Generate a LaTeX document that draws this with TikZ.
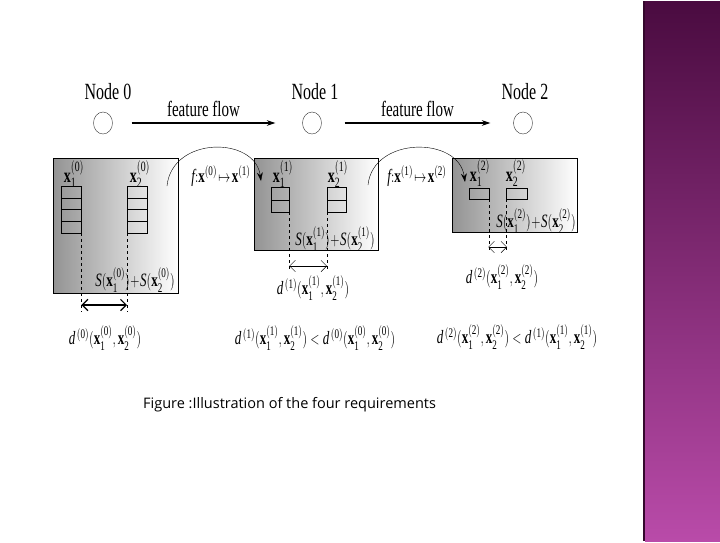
\documentclass[tikz,border=0pt]{standalone}
\usepackage{fontspec}
\usepackage{graphicx}
\setmainfont{Liberation Serif}
\newfontfamily\capfont{Open Sans}
\usetikzlibrary{positioning, shapes.geometric, arrows.meta, calc}
\definecolor{plumtop}{HTML}{4a0b40}
\definecolor{plumbot}{HTML}{b94ba9}
\definecolor{plumedge}{HTML}{34082c}
\newcommand{\tall}[1]{\scalebox{1}[1.45]{#1}}
\newcommand{\vx}[2]{\mathbf{x}_{\mathrm{#1}}^{\mathrm{(#2)}}}
\newcommand{\ssum}[1]{\mathit{S}\mathrm{(}\vx{1}{#1}\mathrm{)}\!+\!\mathit{S}\mathrm{(}\vx{2}{#1}\mathrm{)}}
\newcommand{\dist}[1]{\mathit{d}^{\,\mathrm{(#1)}}\mathrm{(}\vx{1}{#1}\mathrm{,}\,\vx{2}{#1}\mathrm{)}}
\newcommand{\fmap}[2]{\mathit{f}\mathrm{:}\mathbf{x}^{\mathrm{(#1)}}\!\mapsto\!\mathbf{x}^{\mathrm{(#2)}}}

\begin{document}
\begin{tikzpicture}[x=1pt, y=-1pt,
  nodelbl/.style={font=\fontsize{16}{18}\selectfont, inner sep=0pt},
  flowlbl/.style={font=\fontsize{15}{17}\selectfont, inner sep=0pt},
  mlbl/.style={font=\fontsize{13}{15}\selectfont, inner sep=0pt},
  vlbl/.style={font=\fontsize{14}{16}\selectfont, inner sep=0pt},
  peer/.style={draw=black!80, ellipse, minimum width=19pt, minimum height=22pt, inner sep=0pt},
  stagebox/.style={draw, line width=1.1pt, left color=black!42, right color=white,
                anchor=north west, inner sep=0pt},
  cellbox/.style={draw, thin, anchor=north west, inner sep=0pt},
  dashln/.style={dashed, thin},
  flowarrow/.style={-{Stealth[length=3mm, width=2mm]}, line width=1.2pt},
  maparrow/.style={-{Stealth[length=3mm, width=2mm]}, thin},
  gaparrow/.style={{Straight Barb[length=2mm]}-{Straight Barb[length=2mm]}}
]
  % page and side bar
  \fill[white] (0,0) rectangle (720,540);
  \shade[top color=plumtop, bottom color=plumbot] (645,0) rectangle (720,540);
  \draw[plumedge, line width=2pt] (644,0) -- (644,540);

  % Nodes of the flow
  \node[peer] (n0) at (103,122) {};
  \node[peer] (n1) at (312,122) {};
  \node[peer] (n2) at (523,122) {};
  \node[nodelbl] at (108,91) {\tall{Node 0}};
  \node[nodelbl] at (315,91) {\tall{Node 1}};
  \node[nodelbl] at (525,91) {\tall{Node 2}};

  \draw[flowarrow] ([xshift=19pt]n0.east) -- ([xshift=-27pt]n1.west)
      node[flowlbl, midway, above=6pt] {\tall{feature flow}};
  \draw[flowarrow] ([xshift=23pt]n1.east) -- ([xshift=-23pt]n2.west)
      node[flowlbl, midway, above=6pt] {\tall{feature flow}};

  % Stages
  \node[stagebox, minimum width=125pt, minimum height=135pt] (b0) at (53,157) {};
  \node[stagebox, minimum width=124pt, minimum height=92pt] (b1) at (254,157) {};
  \node[stagebox, minimum width=125pt, minimum height=74pt] (b2) at (452,157) {};

  % Stage 0
  \node[vlbl] at (74,173) {\tall{$\vx{1}{0}$}};
  \node[vlbl] at (140,173) {\tall{$\vx{2}{0}$}};
  \node[cellbox, minimum width=20pt, minimum height=47pt] (s01) at (61,185) {};
  \node[cellbox, minimum width=20pt, minimum height=47pt] (s02) at (127,185) {};
  \foreach \s in {s01, s02} {
    \foreach \k in {1,3}
      \draw ($(\s.north west)!\k/4!(\s.south west)$) -- ($(\s.north east)!\k/4!(\s.south east)$);
    \draw[line width=1.2pt] (\s.west) -- (\s.east);
  }
  \coordinate (e01) at (s01.south east |- 0,311);
  \coordinate (e02) at (s02.south west |- 0,311);
  \draw[dashln] (s01.south east) -- (e01);
  \draw[dashln] (s02.south west) -- (e02);
  \draw[gaparrow, line width=1.2pt] ([yshift=7pt]e01) -- ([yshift=7pt]e02);
  \node[mlbl] at (135,279) {\tall{$\ssum{0}$}};
  \node[mlbl] at (105,337) {\tall{$\dist{0}$}};

  % Stage 1
  \node[vlbl] at (283,173) {\tall{$\vx{1}{1}$}};
  \node[vlbl] at (338,173) {\tall{$\vx{2}{1}$}};
  \node[cellbox, minimum width=18pt, minimum height=25pt] (s11) at (271,186) {};
  \node[cellbox, minimum width=19pt, minimum height=25pt] (s12) at (327,186) {};
  \foreach \s in {s11, s12}
    \draw (\s.west) -- (\s.east);
  \coordinate (e11) at (s11.south east |- 0,268);
  \coordinate (e12) at (s12.south west |- 0,268);
  \draw[dashln] (s11.south east) -- (e11);
  \draw[dashln] (s12.south west) -- (e12);
  \draw[gaparrow] ([yshift=3pt]e11) -- ([yshift=3pt]e12);
  \node[mlbl] at (335,238) {\tall{$\ssum{1}$}};
  \node[mlbl] at (313,287) {\tall{$\dist{1}$}};
  \node[mlbl] at (315,337) {\tall{$\dist{1}<\dist{0}$}};

  % Stage 2
  \node[vlbl] at (480,172) {\tall{$\vx{1}{2}$}};
  \node[vlbl] at (516,172) {\tall{$\vx{2}{2}$}};
  \node[cellbox, minimum width=20pt, minimum height=11pt] (s21) at (469,187) {};
  \node[cellbox, minimum width=21pt, minimum height=11pt] (s22) at (506,187) {};
  \coordinate (e21) at (s21.south east |- 0,252);
  \coordinate (e22) at (s22.south west |- 0,252);
  \draw[dashln] (s21.south east) -- (e21);
  \draw[dashln] (s22.south west) -- (e22);
  \draw[gaparrow, shorten <=-1pt, shorten >=-1pt] ([yshift=6pt]e21) -- ([yshift=6pt]e22);
  \node[mlbl] at (536,220) {\tall{$\ssum{2}$}};
  \node[mlbl] at (502,276) {\tall{$\dist{2}$}};
  \node[mlbl] at (517,336) {\tall{$\dist{2}<\dist{1}$}};

  % Mappings between stages
  \coordinate (m0) at (167,185);
  \coordinate (m1) at (261,180);
  \coordinate (m2) at (368,184);
  \coordinate (m3) at (465,181);
  \draw[maparrow] (m0) .. controls (172,135) and (255,135) .. (m1);
  \draw[maparrow] (m2) .. controls (373,135) and (459,135) .. (m3);
  \node[mlbl] at (221,175) {\tall{$\fmap{0}{1}$}};
  \node[mlbl] at (417,175) {\tall{$\fmap{1}{2}$}};

  % Caption
  \node[font=\capfont\fontsize{14.5}{16}\selectfont, anchor=west, inner sep=0pt] at (143,404)
    {Figure :Illustration of the four requirements};
\end{tikzpicture}
\end{document}
